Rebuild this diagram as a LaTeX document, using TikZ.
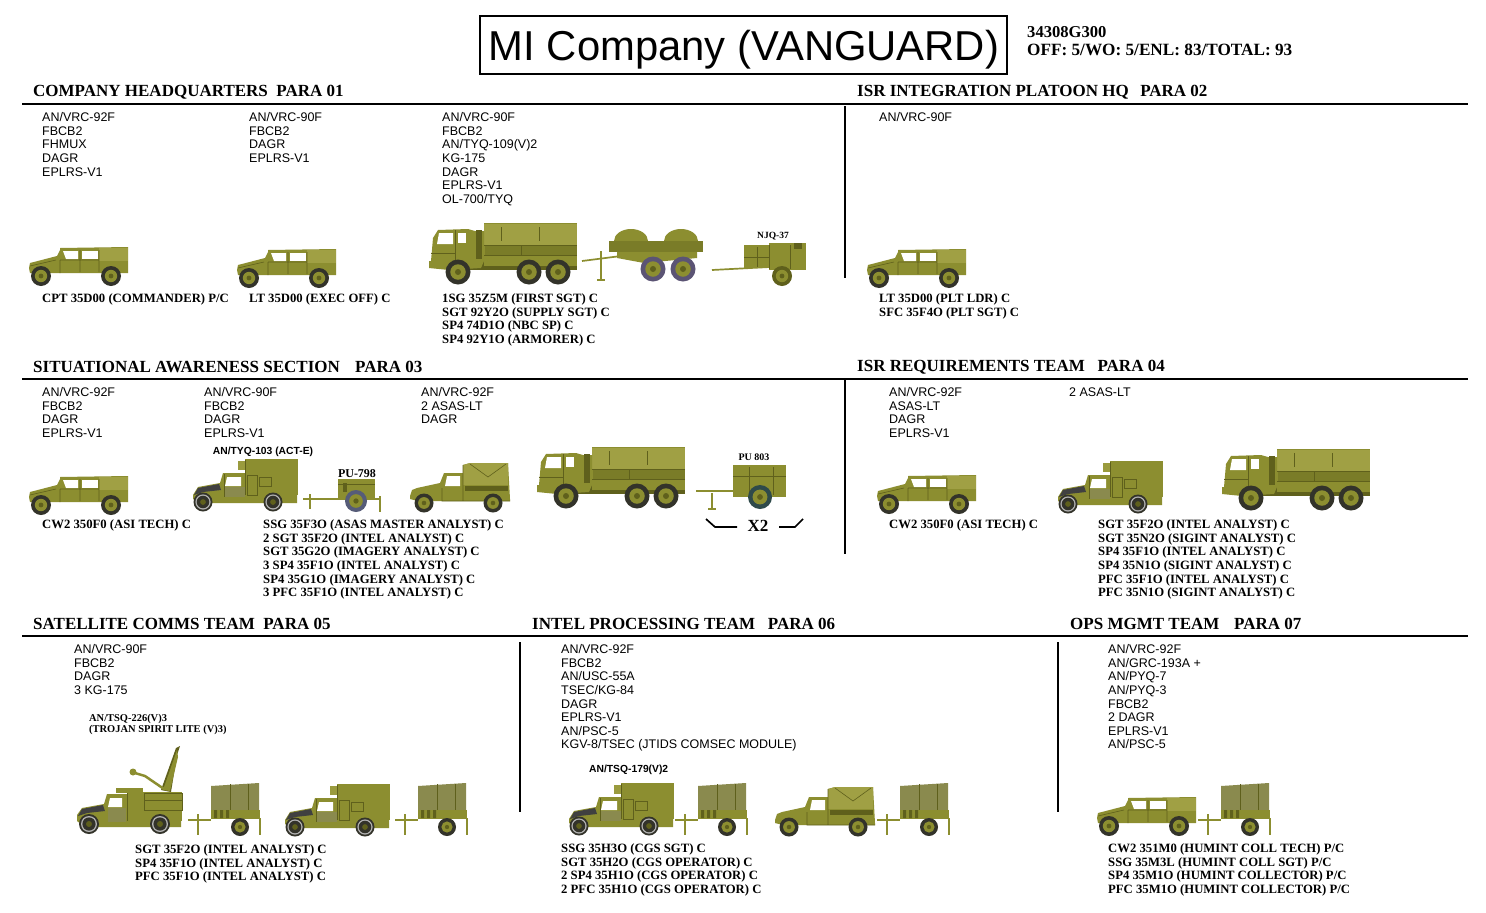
\documentclass[tikz,border=0pt]{standalone}
\usepackage{fontspec}
\setmainfont{Liberation Serif}
\newfontfamily\armyfont{Liberation Sans}
\definecolor{drab}{HTML}{8C8E30}
\definecolor{drabdark}{HTML}{5F601C}
\definecolor{drablight}{HTML}{A0A044}
\definecolor{tarp}{HTML}{8A8A4E}
\definecolor{tire}{HTML}{33332A}
\definecolor{tirepurple}{HTML}{5B5474}
\definecolor{tirebluish}{HTML}{565C78}
\definecolor{tireteal}{HTML}{2F4A4A}
\newcommand\roadwheel[4]{% x, y, radius, tire colour
  \fill[#4] (#1,#2) circle (#3);
  \fill[drab] (#1,#2) circle (#3*.62);
  \fill[drabdark] (#1,#2) circle (#3*.24);
}
\newcommand\ringwheel[3]{% x, y, radius
  \fill[tire] (#1,#2) circle (#3);
  \fill[black!30] (#1,#2) circle (#3*.8);
  \fill[tire] (#1,#2) circle (#3*.66);
  \fill[drabdark] (#1,#2) circle (#3*.3);
}
\begin{document}
\begin{tikzpicture}[x=1pt,y=-1pt,
    rule/.style ={line width=1.7pt},
    gear/.style ={anchor=north west, inner sep=0pt, align=left,
      font=\armyfont\fontsize{12.5}{13.6}\selectfont},
    crew/.style ={anchor=north west, inner sep=0pt, align=left,
      font=\bfseries\fontsize{12.7}{13.55}\selectfont},
    header/.style ={anchor=west, inner sep=0pt,
      font=\bfseries\fontsize{17}{18}\selectfont},
    tag/.style ={inner sep=0pt, font=\bfseries\fontsize{10}{11}\selectfont},
    sanstag/.style ={inner sep=0pt, font=\armyfont\bfseries\fontsize{10.3}{11}\selectfont},
    detail/.style ={draw=drabdark, line width=.6pt},
    hitch/.style ={drab, line width=1.7pt},
    hmmwv/.pic ={
      \fill[drab] (1,16)--(28,9)--(31,3)--(31,1)--(99,0)--(99,26)--(1,26)--(0,21)--cycle;
      \fill[drablight] (70,1) rectangle (99,14);
      \fill[white] (34,4)--(49,4)--(49,12)--(37,12)--cycle;
      \fill[white] (53,4) rectangle (69,12);
      \draw[detail] (31,13)--(31,26) (51,3)--(51,25) (70,3)--(70,25) (1,19)--(27,13) (31,13)--(70,13);
      \roadwheel{12}{29}{10}{tire}
      \roadwheel{82}{29}{10}{tire}
    },
    softtop/.pic ={
      \fill[drab] (0,33)--(2,27)--(7,25)--(30,20)--(34,10)--(53,10)--(53,2)--(60,0)--(98,0)--(100,36)--(100,38)--(8,38)--(0,36)--cycle;
      \fill[drablight] (53,2)--(60,0)--(98,0)--(98,22)--(53,22)--cycle;
      \fill[drabdark] (55,23) rectangle (98,28);
      \fill[white] (37,13)--(50,13)--(50,23)--(35,23)--cycle;
      \draw[detail] (53,2)--(53,38) (60,1)--(78,14)--(96,1) (32,25)--(32,38)--(100,38);
      \roadwheel{14}{40}{9.5}{tire}
      \roadwheel{83}{40}{9.5}{tire}
    },
    shelter/.pic ={
      \fill[drab] (52,0) rectangle (105,36);
      \fill[drablight!70!drab] (45,2) rectangle (52,11);
      \fill[drab] (0,36)--(5,28)--(27,24)--(30,14)--(52,14)--(52,36)--(104,36)--(104,44)--(8,44)--(0,40)--cycle;
      \fill[black!75] (1,36)--(5,29)--(26,25)--(28,31)--(10,33)--cycle;
      \fill[white] (34,18)--(48,18)--(48,27)--(32,27)--cycle;
      \fill[tarp] (31,28) rectangle (52,38);
      \draw[detail] (54,16) rectangle (64,36) (66,18) rectangle (78,27) (52,1)--(52,36) (31,15)--(31,38);
      \ringwheel{10}{43}{9.5}
      \ringwheel{80}{43}{9.5}
    },
    trojan/.pic ={
      \fill[drabdark] (84,45)--(99,3)--(103,1)--(100,10)--(94,47)--cycle;
      \fill[drab] (86,45)--(100,5)--(101,12)--(93,46)--cycle;
      \draw[drab, line width=2.5pt] (87,44)--(68,31)--(58,28);
      \fill[drab] (56,27) circle (3.5);
      \fill[drab] (39,43) rectangle (66,48);
      \fill[drab] (50,47) rectangle (105,76);
      \fill[drab] (0,70)--(5,63)--(27,59)--(30,49)--(50,49)--(50,76)--(104,76)--(104,82)--(8,82)--(0,76)--cycle;
      \fill[black!75] (1,71)--(5,64)--(26,60)--(28,66)--(10,68)--cycle;
      \fill[white] (33,53)--(45,53)--(45,62)--(31,62)--cycle;
      \fill[tarp] (31,63) rectangle (49,77);
      \draw[detail] (50,48)--(50,76) (67,48) rectangle (105,65) (67,55)--(105,55);
      \ringwheel{12}{79}{10}
      \ringwheel{83}{79}{10}
    },
    truck/.pic ={
      \fill[drabdark] (41,38) rectangle (148,47);
      \fill[drab] (55,0) rectangle (148,43);
      \fill[drablight] (55,1) rectangle (148,22);
      \fill[drabdark!40!drab] (56,23) rectangle (148,32);
      \fill[drab] (0,38)--(2,38)--(4,15)--(9,7)--(39,6)--(46,8)--(55,8)--(55,38)--(52,45)--(20,47)--(0,45)--cycle;
      \fill[drabdark] (47,7) rectangle (53,36);
      \fill[white] (10,10)--(24,10)--(24,21)--(8,21)--cycle;
      \fill[white] (29,10) rectangle (37,20);
      \draw[detail] (55,22)--(148,22) (55,32)--(148,32) (92,22)--(92,32) (72,4)--(72,18) (110,4)--(110,18) (26,7)--(26,38) (2,30)--(26,30);
      \roadwheel{29}{49}{12.5}{tire}
      \roadwheel{100}{49}{12.5}{tire}
      \roadwheel{129}{49}{12.5}{tire}
    },
    tanker/.pic ={
      \draw[hitch] (0,32)--(39,27) (19,22)--(19,51);
      \fill[drab] (15,50) rectangle (23,52);
      \fill[drab] (49,12) ellipse (17 and 12);
      \fill[drab] (99,12) ellipse (17 and 12);
      \fill[drabdark!40!drab] (27,12) rectangle (121,23);
      \fill[drab] (35,23)--(115,23)--(115,29)--(62,34)--(35,29)--cycle;
      \roadwheel{71}{40}{12.5}{tirepurple}
      \roadwheel{101}{40}{12.5}{tirepurple}
    },
    njqgen/.pic ={
      \draw[hitch] (0,27)--(58,24);
      \fill[drab] (32,2) rectangle (57,25);
      \fill[drab] (57,0) rectangle (94,27);
      \fill[drabdark] (82,0) rectangle (90,6);
      \draw[detail] (45,4)--(45,24) (57,2)--(57,26) (78,2)--(78,26) (32,14)--(57,14);
      \roadwheel{70}{33}{10}{drabdark}
    },
    pusmall/.pic ={
      \draw[hitch] (0,21)--(44,21) (7,16)--(7,31) (77,18)--(77,34) (72,21)--(77,21);
      \fill[drab] (35,1) rectangle (72,22);
      \fill[drabdark] (40,5) rectangle (44,14);
      \draw[detail] (35,6)--(72,6);
      \roadwheel{53}{23}{11}{tirebluish}
    },
    pularge/.pic ={
      \draw[hitch] (0,26)--(37,26) (16,28)--(16,43);
      \fill[drab] (12,43) rectangle (20,45);
      \fill[drab] (37,0) rectangle (90,32);
      \draw[detail] (53,2)--(53,30) (77,2)--(77,30) (37,11)--(90,11);
      \roadwheel{64}{32}{12}{tireteal}
    },
    cargotrailer/.pic ={
      \draw[hitch] (0,37)--(23,37) (10,31)--(10,52) (72,35)--(72,52);
      \fill[tarp] (23,3)--(71,0)--(71,27)--(23,27)--cycle;
      \fill[drab] (23,27) rectangle (72,36);
      \draw[detail] (42,1)--(42,27) (60,1)--(60,27);
      \fill[drabdark] (26,27) rectangle (29,35) (32,27) rectangle (35,35) (38,27) rectangle (41,35);
      \roadwheel{52}{44}{9}{tire}
    }]
   \path[use as bounding box, fill=white] (0,0) rectangle (1486,913);
   % title block
   \node[draw, rule, minimum width=527pt, minimum height=58pt, inner sep=0pt] (title) at (743.5,45) {};
   \node[inner sep=0pt, font=\armyfont\fontsize{41.8}{46}\selectfont] (titletext) at (744,50) {MI Company (VANGUARD)};
   \node[anchor=west, inner sep=0pt, font=\bfseries\fontsize{16.6}{18}\selectfont] (srcno) at (1027,32) {34308G300};
   \node[anchor=west, inner sep=0pt, font=\bfseries\fontsize{17.2}{18}\selectfont] (strength) at (1027,50) {OFF: 5/WO: 5/ENL: 83/TOTAL: 93};
   % rules
   \draw[rule] (22,104) -- (1468,104);
   \draw[rule] (22,379) -- (1468,379);
   \draw[rule] (22,636) -- (1468,636);
   \draw[rule] (845,106) -- (845,278);
   \draw[rule] (845,380) -- (845,554);
   \draw[rule] (520,642) -- (520,812);
   \draw[rule] (1058,642) -- (1058,812);
   % para 01 and 02
   \node[header] (paraA) at (33,92) {COMPANY HEADQUARTERS~~PARA 01};
   \node[header] (paraB) at (857,92) {ISR INTEGRATION PLATOON HQ~~\hspace{3pt}PARA 02};
   \node[gear] (gearAa) at (42,112.5) {AN/VRC-92F\\FBCB2\\FHMUX\\DAGR\\EPLRS-V1};
   \node[gear] (gearAb) at (249,112.5) {AN/VRC-90F\\FBCB2\\DAGR\\EPLRS-V1};
   \node[gear] (gearAc) at (442,112.5) {AN/VRC-90F\\FBCB2\\AN/TYQ-109(V)2\\KG-175\\DAGR\\EPLRS-V1\\OL-700/TYQ};
   \node[gear] (gearBa) at (879,112.5) {AN/VRC-90F};
   \pic (hqA) at (29,247) {hmmwv};
   \pic (hqB) at (237,249) {hmmwv};
   \pic (hqC) at (429,223) {truck};
   \pic (hqD) at (582,229) {tanker};
   \pic (hqE) at (712,243) {njqgen};
   \pic (hqF) at (867,249) {hmmwv};
   \node[tag, font=\bfseries\fontsize{9.5}{11}\selectfont] (njq) at (773,236) {NJQ-37};
   \node[crew] (crewAa) at (42,293.8) {CPT 35D00 (COMMANDER) P/C};
   \node[crew] (crewAb) at (249,293.8) {LT 35D00 (EXEC OFF) C};
   \node[crew] (crewAc) at (442,293.8) {1SG 35Z5M (FIRST SGT) C\\SGT 92Y2O (SUPPLY SGT) C\\SP4 74D1O (NBC SP) C\\SP4 92Y1O (ARMORER) C};
   \node[crew] (crewBa) at (879,293.8) {LT 35D00 (PLT LDR) C\\SFC 35F4O (PLT SGT) C};
   % para 03 and 04
   \node[header] (paraC) at (33,367) {SITUATIONAL AWARENESS SECTION~~~\hspace{2.5pt}PARA 03};
   \node[header] (paraD) at (857,367) {ISR REQUIREMENTS TEAM~~~PARA 04};
   \node[gear] (gearCa) at (42,387.5) {AN/VRC-92F\\FBCB2\\DAGR\\EPLRS-V1};
   \node[gear] (gearCb) at (204,387.5) {AN/VRC-90F\\FBCB2\\DAGR\\EPLRS-V1};
   \node[gear] (gearCc) at (421,387.5) {AN/VRC-92F\\2 ASAS-LT\\DAGR};
   \node[gear] (gearDa) at (889,387.5) {AN/VRC-92F\\ASAS-LT\\DAGR\\EPLRS-V1};
   \node[gear] (gearDb) at (1069,387.5) {2 ASAS-LT};
   \pic (saA) at (29,476) {hmmwv};
   \pic (saB) at (193,459) {shelter};
   \pic (saC) at (303,478) {pusmall};
   \pic (saD) at (410,463) {softtop};
   \pic (saE) at (537,447) {truck};
   \pic (saF) at (696,465) {pularge};
   \pic (reqA) at (877,475) {hmmwv};
   \pic (reqB) at (1058,461) {shelter};
   \pic (reqC) at (1222,449) {truck};
   \node[sanstag] (act) at (263,452) {AN/TYQ-103 (ACT-E)};
   \node[tag, font=\bfseries\fontsize{12}{13}\selectfont] (pua) at (357,474) {PU-798};
   \node[tag] (pub) at (754,457) {PU 803};
   \node[tag, font=\bfseries\fontsize{17}{18}\selectfont] (twice) at (758,526) {X2};
   \coordinate (twiceAa) at (706,519); \coordinate (twiceAb) at (715,527); \coordinate (twiceAc) at (737,527);
   \coordinate (twiceBa) at (779,527); \coordinate (twiceBb) at (795,527); \coordinate (twiceBc) at (803,519);
   \draw[rule] (twiceAa) -- (twiceAb) -- (twiceAc);
   \draw[rule] (twiceBa) -- (twiceBb) -- (twiceBc);
   \node[crew] (crewCa) at (42,519.8) {CW2 350F0 (ASI TECH) C};
   \node[crew] (crewCb) at (263,519.8) {SSG 35F3O (ASAS MASTER ANALYST) C\\2 SGT 35F2O (INTEL ANALYST) C\\SGT 35G2O (IMAGERY ANALYST) C\\3 SP4 35F1O (INTEL ANALYST) C\\SP4 35G1O (IMAGERY ANALYST) C\\3 PFC 35F1O (INTEL ANALYST) C};
   \node[crew] (crewDa) at (889,519.8) {CW2 350F0 (ASI TECH) C};
   \node[crew] (crewDb) at (1098,519.8) {SGT 35F2O (INTEL ANALYST) C\\SGT 35N2O (SIGINT ANALYST) C\\SP4 35F1O (INTEL ANALYST) C\\SP4 35N1O (SIGINT ANALYST) C\\PFC 35F1O (INTEL ANALYST) C\\PFC 35N1O (SIGINT ANALYST) C};
   % para 05, 06 and 07
   \node[header] (paraE) at (33,624) {SATELLITE COMMS TEAM~~PARA 05};
   \node[header] (paraF) at (532,624) {INTEL PROCESSING TEAM~~~PARA 06};
   \node[header] (paraG) at (1070,624) {OPS MGMT TEAM~~~\hspace{2pt}PARA 07};
   \node[gear] (gearEa) at (74,644.5) {AN/VRC-90F\\FBCB2\\DAGR\\3 KG-175};
   \node[gear] (gearFa) at (561,644.5) {AN/VRC-92F\\FBCB2\\AN/USC-55A\\TSEC/KG-84\\DAGR\\EPLRS-V1\\AN/PSC-5\\KGV-8/TSEC (JTIDS COMSEC MODULE)};
   \node[gear] (gearGa) at (1108,644.5) {AN/VRC-92F\\AN/GRC-193A +\\AN/PYQ-7\\AN/PYQ-3\\FBCB2\\2 DAGR\\EPLRS-V1\\AN/PSC-5};
   \node[tag, anchor=north west, align=left, font=\bfseries\fontsize{10.45}{11}\selectfont] (tsqa) at (89,714) {AN/TSQ-226(V)3\\(TROJAN SPIRIT LITE (V)3)};
   \node[sanstag, anchor=west] (tsqb) at (589,770) {AN/TSQ-179(V)2};
   \pic (satA) at (77,745) {trojan};
   \pic (satB) at (188,783) {cargotrailer};
   \pic (satC) at (285,784) {shelter};
   \pic (satD) at (395,783) {cargotrailer};
   \pic (intA) at (569,783) {shelter};
   \pic (intB) at (675,783) {cargotrailer};
   \pic (intC) at (775,787) {softtop};
   \pic (intD) at (877,783) {cargotrailer};
   \pic (opsA) at (1097,797) {hmmwv};
   \pic (opsB) at (1198,783) {cargotrailer};
   \node[crew] (crewEa) at (135,844.8) {SGT 35F2O (INTEL ANALYST) C\\SP4 35F1O (INTEL ANALYST) C\\PFC 35F1O (INTEL ANALYST) C};
   \node[crew] (crewFa) at (561,843.8) {SSG 35H3O (CGS SGT) C\\SGT 35H2O (CGS OPERATOR) C\\2 SP4 35H1O (CGS OPERATOR) C\\2 PFC 35H1O (CGS OPERATOR) C};
   \node[crew] (crewGa) at (1108,843.8) {CW2 351M0 (HUMINT COLL TECH) P/C\\SSG 35M3L (HUMINT COLL SGT) P/C\\SP4 35M1O (HUMINT COLLECTOR) P/C\\PFC 35M1O (HUMINT COLLECTOR) P/C};
\end{tikzpicture}
\end{document}
